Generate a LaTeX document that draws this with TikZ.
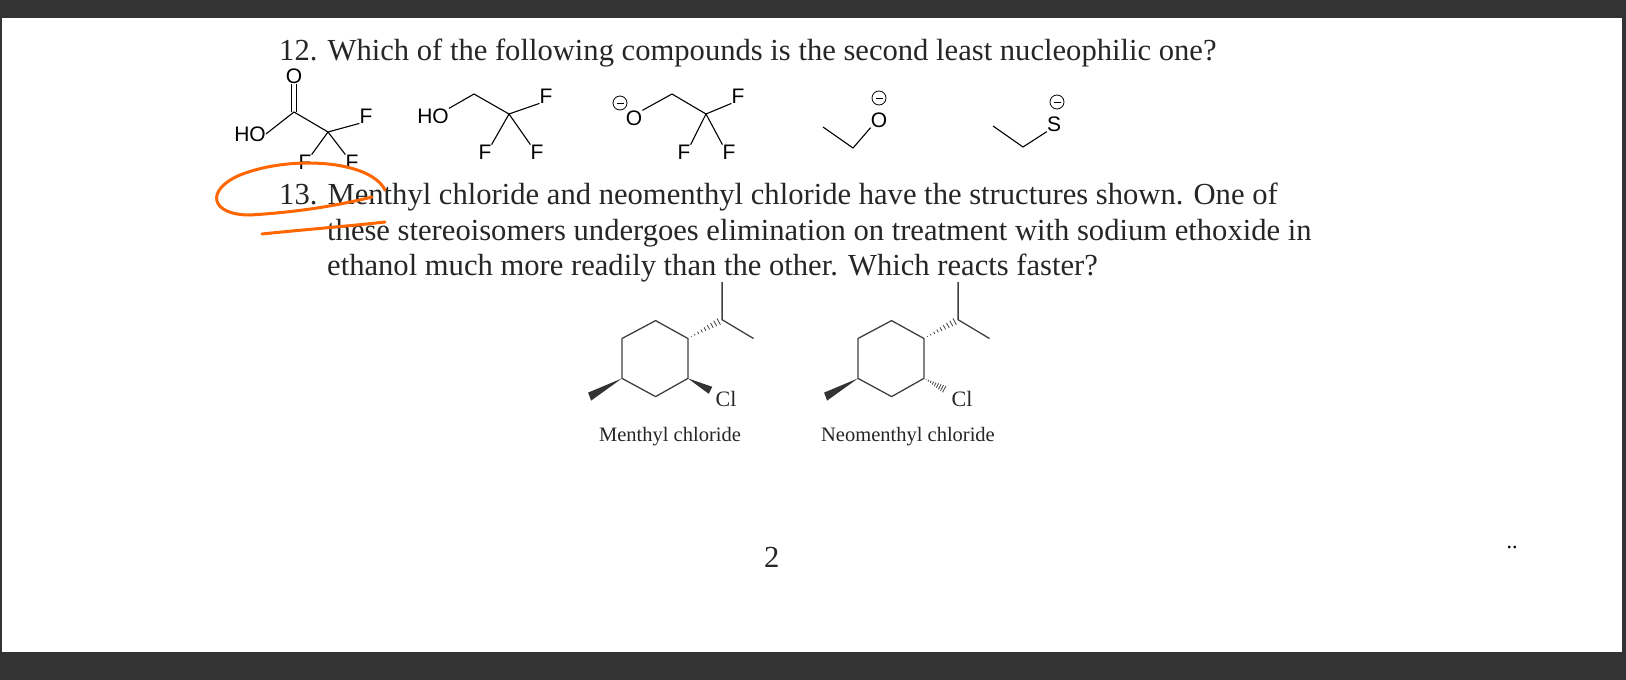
\documentclass[tikz,border=0pt]{standalone}
\usepackage{fontspec}
\usetikzlibrary{calc}
\setmainfont{Liberation Serif}
\newfontfamily\chemf{Liberation Sans}
\begin{document}
\begin{tikzpicture}[x=1pt,y=-1pt,
  txt/.style={inner sep=0pt,anchor=base west,font=\fontsize{30.6}{33}\selectfont,text=black!85},
  atm/.style={inner sep=0pt,font=\chemf\fontsize{21}{21}\selectfont},
  bd/.style={line width=1.1pt},
  rg/.style={line width=1.3pt,black!75},
  lbl/.style={inner sep=0pt,font=\fontsize{20.5}{21}\selectfont,text=black!85},
  neg/.style={circle,draw,line width=0.8pt,inner sep=0pt,minimum size=14pt,
    path picture={\draw[line width=0.9pt] ([xshift=-3.5pt]path picture bounding box.center) -- ([xshift=3.5pt]path picture bounding box.center);}}]
\fill[black!80] (0,0) rectangle (1626,680);
\fill[white] (2,18) rectangle (1622,652);
\useasboundingbox (0,0) rectangle (1626,680);
% text
\node[txt] (q12) at (279,60) {12. Which of the following compounds is the second least nucleophilic one?};
\node[txt] (q13a) at (279,204) {13. Menthyl chloride and neomenthyl chloride have the structures shown. One of};
\node[txt] (q13b) at (327,240) {these stereoisomers undergoes elimination on treatment with sodium ethoxide in};
\node[txt] (q13c) at (327,275) {ethanol much more readily than the other. Which reacts faster?};
% compound 1
\node[atm] (o1) at (294,76) {O};
\coordinate (c1) at (294,112);
\node[atm] (ho1) at (250,134) {HO};
\coordinate (c2) at (328,132);
\node[atm] (f1) at (366,116) {F};
\node[atm] (f2) at (305,162) {F};
\node[atm] (f3) at (352,162) {F};
\draw[bd] ([xshift=-2.5pt]c1) -- ([xshift=-2.5pt]o1.south);
\draw[bd] ([xshift=2.5pt]c1) -- ([xshift=2.5pt]o1.south);
\draw[bd] (ho1.east) -- (c1) -- (c2) -- (f1.south west);
\draw[bd] (c2) -- (f2.north east);
\draw[bd] (c2) -- (f3.north west);
% compound 2
\node[atm] (ho2) at (433,116) {HO};
\coordinate (m2) at (474,94);
\coordinate (k2) at (509,114);
\node[atm] (f4) at (546,96) {F};
\node[atm] (f5) at (485,152) {F};
\node[atm] (f6) at (537,152) {F};
\draw[bd] (ho2.north east) -- (m2) -- (k2) -- (f4.south west);
\draw[bd] (k2) -- (f5.north east);
\draw[bd] (k2) -- (f6.north west);
% compound 3
\node[neg] (n3) at (620,103) {};
\node[atm] (o3) at (634,118) {O};
\coordinate (m3) at (672,94);
\coordinate (k3) at (706,114);
\node[atm] (f7) at (738,96) {F};
\node[atm] (f8) at (684,152) {F};
\node[atm] (f9) at (729,152) {F};
\draw[bd] (o3.north east) -- (m3) -- (k3) -- (f7.south west);
\draw[bd] (k3) -- (f8.north east);
\draw[bd] (k3) -- (f9.north west);
% compound 4
\coordinate (e1) at (823,127);
\coordinate (e2) at (853,148);
\node[atm] (o4) at (879,120) {O};
\node[neg] (n4) at (879,98) {};
\draw[bd] (e1) -- (e2) -- (o4.south west);
% compound 5
\coordinate (s1) at (993,126);
\coordinate (s2) at (1023,147);
\node[atm] (s5) at (1054,124) {S};
\node[neg] (n5) at (1057,102) {};
\draw[bd] (s1) -- (s2) -- (s5.south west);
% menthyl
\foreach \dx/\nm in {0/a,236/b}{
\begin{scope}[xshift=\dx]
\coordinate (t\nm) at (655.6,320.6);
\coordinate (ur\nm) at (687.9,338.5);
\coordinate (lr\nm) at (687.9,378.4);
\coordinate (bo\nm) at (655.6,396.6);
\coordinate (ll\nm) at (622,378.4);
\coordinate (ul\nm) at (622,338.5);
\coordinate (ch\nm) at (722.1,319.7);
\coordinate (top\nm) at (722.1,282);
\coordinate (rt\nm) at (753.5,338.5);
\coordinate (me\nm) at (589.6,396.6);
\coordinate (cle\nm) at (710.5,390.3);
\node[lbl,font=\fontsize{22}{22}\selectfont] (cl\nm) at (726,399) {Cl};
\draw[rg,line join=round] (t\nm) -- (ur\nm) -- (lr\nm) -- (bo\nm) -- (ll\nm) -- (ul\nm) -- cycle;
\draw[rg] (top\nm) -- (ch\nm) -- (rt\nm);
\fill[black!80] (ll\nm) -- ($(me\nm)+(1.5,4)$) -- ($(me\nm)+(-1.5,-4)$) -- cycle;
\foreach \t in {0.1,0.2,...,0.95}{
  \draw[black!75,line width=0.8pt] ($(ur\nm)!\t!(ch\nm)!{\t*4pt}!90:(ch\nm)$) -- ($(ur\nm)!\t!(ch\nm)!{-\t*4pt}!90:(ch\nm)$);}
\end{scope}}
\fill[black!80] (lra) -- ($(clea)+(1.8,-3.5)$) -- ($(clea)+(-1.8,3.5)$) -- cycle;
\foreach \t in {0.1,0.2,...,0.95}{
  \draw[black!75,line width=0.8pt] ($(lrb)!\t!(cleb)!{\t*4pt}!90:(cleb)$) -- ($(lrb)!\t!(cleb)!{-\t*4pt}!90:(cleb)$);}
\node[lbl] (lab1) at (670,437) {Menthyl chloride};
\node[lbl] (lab2) at (908,437) {Neomenthyl chloride};
\node[txt] (pg) at (764,567) {2};
\node[inner sep=0pt,font=\fontsize{22}{22}\selectfont] (dots) at (1512,548) {..};
% orange scribble
\draw[orange!80!red,line width=3pt,line cap=round]
 (385,190) .. controls (370,160) and (290,155) .. (240,175)
 .. controls (205,190) and (210,215) .. (250,215)
 .. controls (300,212) and (340,205) .. (372,197);
\draw[orange!80!red,line width=3pt,line cap=round]
 (262,234) .. controls (300,230) and (350,226) .. (385,222);
\end{tikzpicture}
\end{document}
